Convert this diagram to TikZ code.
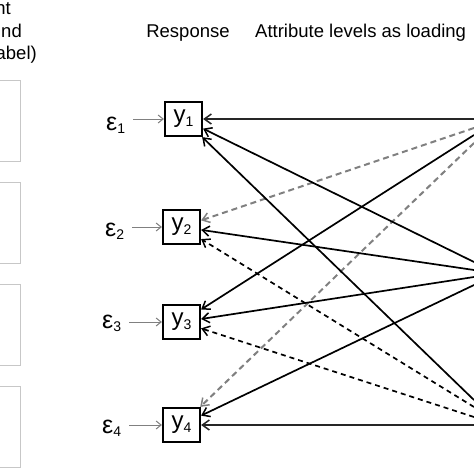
\documentclass[tikz,border=0pt]{standalone}
\usepackage{fontspec}
\setmainfont{Liberation Sans}
\usetikzlibrary{arrows.meta}
\newcommand\subn[1]{\raisebox{-0.3ex}{\fontsize{14}{15}\selectfont #1}}
\begin{document}
\begin{tikzpicture}[x=1pt,y=-1pt,
  lbl/.style={font=\fontsize{18.5}{20}\selectfont, inner sep=0pt},
  elbl/.style={font=\fontsize{25}{27}\selectfont, inner sep=0pt},
  ybox/.style={draw, line width=2.2pt, minimum width=37pt, minimum height=34pt, inner sep=0pt, font=\fontsize{24}{26}\selectfont},
  gbox/.style={draw=black!22, line width=1pt},
  err/.style={draw=black!50, line width=1pt, -{Straight Barb[length=5pt,width=8pt,line width=1pt]}},
  load/.style={line width=1.7pt, -{Straight Barb[length=7pt,width=10pt,line width=1.5pt]}},
  horiz/.style={load, draw=black!85, line width=2.2pt},
  gdash/.style={load, draw=black!50, dash pattern=on 6pt off 4pt, line width=2pt},
  bdash/.style={load, dash pattern=on 5pt off 4pt}]
\useasboundingbox (0,0) rectangle (474,474);
% left cropped text
\node[lbl, anchor=base east] (t1) at (11,14) {nt};
\node[lbl, anchor=base east] (t2) at (22,37) {nd};
\node[lbl, anchor=base east] (t3) at (37,59) {abel)};
% left grey boxes
\draw[gbox] (0,80) -- (20,80) -- (20,161) -- (0,161);
\draw[gbox] (0,182) -- (20,182) -- (20,263) -- (0,263);
\draw[gbox] (0,284) -- (20,284) -- (20,365) -- (0,365);
\draw[gbox] (0,386) -- (20,386) -- (20,467) -- (0,467);
% headers
\node[lbl, anchor=base] (resp) at (188,37) {Response};
\node[lbl, anchor=base west] (attr) at (255,37) {Attribute levels as loading};
% response boxes
\node[ybox] (y1) at (183.5,119) {y\subn{1}};
\node[ybox] (y2) at (181.5,227) {y\subn{2}};
\node[ybox] (y3) at (181.5,322) {y\subn{3}};
\node[ybox] (y4) at (181.5,425) {y\subn{4}};
% errors
\node[elbl, anchor=base west] (e1) at (106,130) {ε\subn{1}};
\node[elbl, anchor=base west] (e2) at (105,236) {ε\subn{2}};
\node[elbl, anchor=base west] (e3) at (102,328) {ε\subn{3}};
\node[elbl, anchor=base west] (e4) at (102,433) {ε\subn{4}};
\draw[err, shorten <=8pt] (e1.east |- y1.west) -- (y1.west);
\draw[err, shorten <=8pt] (e2.east |- y2.west) -- (y2.west);
\draw[err, shorten <=8pt] (e3.east |- y3.west) -- (y3.west);
\draw[err, shorten <=8pt] (e4.east |- y4.west) -- (y4.west);
% right-hand loading ends
\coordinate (a1) at (474,119);
\coordinate (a2) at (474,128);
\coordinate (a3) at (474,135);
\coordinate (a4) at (474,143);
\coordinate (b1) at (474,262);
\coordinate (b2) at (474,270);
\coordinate (b3) at (474,277);
\coordinate (b4) at (474,285);
\coordinate (c1) at (474,400);
\coordinate (c2) at (474,407);
\coordinate (c3) at (474,417);
\coordinate (c4) at (474,425);
% loadings
\draw[horiz] (a1) -- (y1);
\draw[gdash] (a2) -- (y2);
\draw[load]  (a3) -- (y3);
\draw[gdash] (a4) -- (y4);
\draw[load]  (b1) -- (y1);
\draw[load]  (b2) -- (y2);
\draw[load]  (b3) -- (y3);
\draw[load]  (b4) -- (y4);
\draw[load]  (c1) -- (y1);
\draw[bdash] (c2) -- (y2);
\draw[bdash] (c3) -- (y3);
\draw[horiz] (c4) -- (y4);
\end{tikzpicture}
\end{document}
